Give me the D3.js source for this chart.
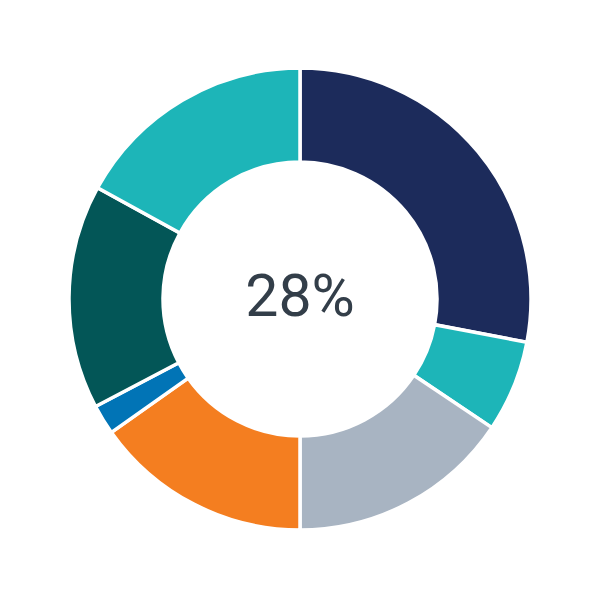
<!DOCTYPE html>
<html>
<head>
<meta charset="utf-8">
<script src="https://cdn.jsdelivr.net/npm/d3@7"></script>
<style>
  html, body { margin: 0; padding: 0; background: #fff; }
</style>
</head>
<body>
<div id="chart"></div>
<script>
// slice shares in percent, clockwise from 12 o'clock
var segments = ["A", "B", "C", "D", "E", "F", "G"]
var values = [28, 6.4, 15.6, 15.2, 2.1, 15.7, 17.0]
var colors = ["#1c2b5b", "#1db5b8", "#a8b4c2", "#f47e20", "#0174b6", "#035657", "#1db5b8"]
var centerLabel = "28%"

var width = 600
var height = 600
var outer = 231
var inner = 137

var svg = d3.select("#chart")
	.append("svg")
	.attr("width", width)
	.attr("height", height)
	.append("g")
	.attr("transform", "translate(" + 300 + "," + 299 + ")")

var pie = d3.pie()
	.sort(null)
	.value(function(d) { return d.value })

var dat = segments.map(function(s, i) {
	return { name: s, value: values[i], color: colors[i] }
})

var arc = d3.arc()
	.innerRadius(inner)
	.outerRadius(outer)

svg.selectAll("path")
	.data(pie(dat))
	.enter()
	.append("path")
	.attr("d", arc)
	.attr("fill", function(d) { return d.data.color })
	.attr("stroke", "#fff")
	.attr("stroke-width", 3.5)

//big number in the middle
svg.append("text")
	.attr("text-anchor", "middle")
	.attr("y", 17)
	.style("font-family", "Roboto, sans-serif")
	.style("font-size", "59px")
	.style("fill", "#333e49")
	.text(centerLabel)
</script>
</body>
</html>
